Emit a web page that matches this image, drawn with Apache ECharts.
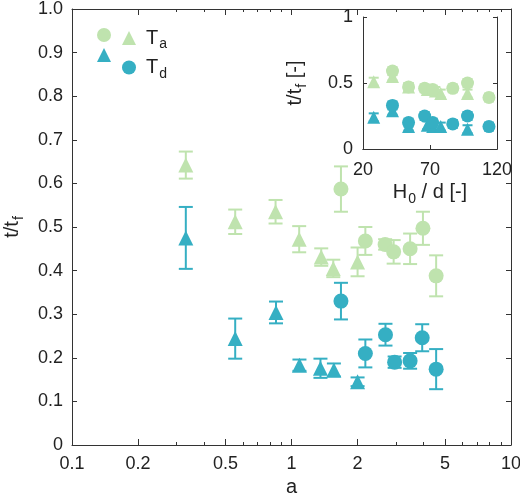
<!DOCTYPE html>
<html>
<head>
<meta charset="utf-8">
<script src="https://cdn.jsdelivr.net/npm/echarts@6/dist/echarts.min.js"></script>
<style>
  html, body { margin: 0; padding: 0; background: #fff; }
  #chart { width: 520px; height: 495px; }
</style>
</head>
<body>
<div id="chart"></div>
<script>
// main plot: t/t_f versus a (log axis)
var taTriA = [0.33, 0.554, 0.846, 1.084, 1.366, 1.55, 2.0];
var taTriT = [0.642, 0.512, 0.535, 0.472, 0.431, 0.405, 0.42];
var taTriErr = [0.031, 0.028, 0.027, 0.03, 0.02, 0.02, 0.033];
var taCirA = [1.68, 2.17, 2.67, 2.92, 3.47, 3.97, 4.56];
var taCirT = [0.587, 0.468, 0.46, 0.443, 0.45, 0.497, 0.388];
var taCirErr = [0.052, 0.032, 0.012, 0.027, 0.035, 0.038, 0.047];

var tdTriA = [0.33, 0.554, 0.85, 1.087, 1.355, 1.56, 2.0];
var tdTriT = [0.475, 0.244, 0.304, 0.183, 0.176, 0.172, 0.145];
var tdTriErr = [0.071, 0.046, 0.025, 0.013, 0.022, 0.015, 0.01];
var tdCirA = [1.68, 2.17, 2.68, 2.95, 3.47, 3.94, 4.56];
var tdCirT = [0.33, 0.21, 0.253, 0.19, 0.193, 0.246, 0.174];
var tdCirErr = [0.042, 0.032, 0.025, 0.013, 0.018, 0.031, 0.046];

// inset: t/t_f versus H0/d
var inTaTriH = [28, 42, 54, 68, 74, 78, 98];
var inTaTriT = [0.51, 0.55, 0.47, 0.45, 0.44, 0.42, 0.42];
var inTaCirH = [42, 54, 66, 72, 87, 98, 114];
var inTaCirT = [0.59, 0.47, 0.46, 0.45, 0.46, 0.5, 0.39];
var inTdTriH = [28, 42, 54, 68, 72, 78, 98];
var inTdTriT = [0.24, 0.29, 0.17, 0.18, 0.17, 0.17, 0.15];
var inTdCirH = [42, 54, 66, 72, 87, 98, 114];
var inTdCirT = [0.33, 0.2, 0.25, 0.2, 0.19, 0.25, 0.17];
var inErr = 0.03;

// tick values
var xMajor = [0.1, 0.2, 0.5, 1, 2, 5, 10];
var xMinor = [0.3, 0.4, 0.6, 0.7, 0.8, 0.9, 3, 4, 6, 7, 8, 9];
var inXLabels = [20, 70, 120];
var inXTicks = [70];

var green = "#bfe3ae";
var teal = "#35afc3";
var ink = "#222";
var fontFam = "Liberation Sans, Arial, sans-serif";

function zip(xs, ys) {
  return xs.map(function (x, i) { return [x, ys[i]]; });
}
function zipErr(xs, ys, es) {
  return xs.map(function (x, i) {
    var e = Array.isArray(es) ? es[i] : es;
    return [x, ys[i] - e, ys[i] + e];
  });
}

function errSeries(data, color, xi, yi, cap) {
  return {
    type: "custom",
    xAxisIndex: xi,
    yAxisIndex: yi,
    z: 2,
    silent: true,
    encode: { x: 0, y: [1, 2] },
    data: data,
    renderItem: function (params, api) {
      var top = api.coord([api.value(0), api.value(2)]);
      var bot = api.coord([api.value(0), api.value(1)]);
      var st = { stroke: color, lineWidth: 2 };
      return {
        type: "group",
        children: [
          { type: "line", shape: { x1: top[0], y1: top[1], x2: bot[0], y2: bot[1] }, style: st },
          { type: "line", shape: { x1: top[0] - cap, y1: top[1], x2: top[0] + cap, y2: top[1] }, style: st },
          { type: "line", shape: { x1: bot[0] - cap, y1: bot[1], x2: bot[0] + cap, y2: bot[1] }, style: st },
        ],
      };
    },
  };
}

function pts(name, data, color, symbol, size, xi, yi) {
  return {
    name: name,
    type: "scatter",
    xAxisIndex: xi,
    yAxisIndex: yi,
    z: 3,
    symbol: symbol,
    symbolSize: size,
    itemStyle: { color: color, opacity: 1 },
    data: data,
  };
}

var rich = {
  t: { fontSize: 20, color: ink, fontFamily: fontFam },
  s: { fontSize: 14, color: ink, fontFamily: fontFam, padding: [13, 0, 0, 1] },
};
var legendRich = {
  t: { fontSize: 20, color: ink, fontFamily: fontFam, padding: [0, 0, 0, 5] },
  s: { fontSize: 14, color: ink, fontFamily: fontFam, padding: [13, 0, 0, 1] },
};

var axisLine = { show: true, lineStyle: { color: "#333", width: 1 } };
var noLine = { show: false };

function logAxis(pos, ticks, len, labels, withLine) {
  return {
    type: "log",
    logBase: 10,
    gridIndex: 0,
    position: pos,
    min: 0.1,
    max: 10,
    axisLine: withLine ? axisLine : noLine,
    axisTick: { show: true, inside: true, length: len, customValues: ticks, lineStyle: { color: "#333" } },
    axisLabel: labels
      ? {
          show: true,
          customValues: xMajor,
          margin: 10,
          color: ink,
          fontSize: 18,
          fontFamily: fontFam,
          formatter: function (v) { return String(+Number(v).toPrecision(6)); },
        }
      : { show: false },
    splitLine: { show: false },
    minorTick: { show: false },
  };
}

var option = {
  animation: false,
  backgroundColor: "#fff",
  grid: [
    { left: 72, top: 9, width: 439, height: 436, outerBoundsMode: "none", containLabel: false },
    { left: 363, top: 17, width: 134, height: 132, outerBoundsMode: "none", containLabel: false },
  ],
  legend: [
    {
      orient: "vertical",
      left: 97,
      top: 28,
      padding: 0,
      itemWidth: 14,
      itemHeight: 14,
      itemGap: 6,
      selectedMode: false,
      data: ["Ta circle", "Td triangle"],
      formatter: function () { return "{t| }"; },
      textStyle: { rich: { t: { fontSize: 1, lineHeight: 26 } } },
    },
    {
      orient: "vertical",
      left: 122,
      top: 28,
      padding: 0,
      itemWidth: 14,
      itemHeight: 14,
      itemGap: 6,
      selectedMode: false,
      data: ["Ta triangle", "Td circle"],
      formatter: function (name) {
        return name.charAt(1) === "a" ? "{t|T}{s|a}" : "{t|T}{s|d}";
      },
      textStyle: { rich: legendRich },
    },
  ],
  xAxis: [
    Object.assign(logAxis("bottom", xMajor, 6, true, true), {
      name: "a",
      nameLocation: "middle",
      nameGap: 28,
      nameTextStyle: { color: ink, fontSize: 20, fontFamily: fontFam },
    }),
    logAxis("bottom", xMinor, 3, false, false),
    logAxis("top", xMajor, 6, false, true),
    logAxis("top", xMinor, 3, false, false),
    {
      type: "value",
      gridIndex: 1,
      position: "bottom",
      min: 20,
      max: 120,
      axisLine: axisLine,
      axisTick: { show: true, inside: true, length: 4, customValues: inXTicks, lineStyle: { color: "#333" } },
      axisLabel: { show: true, customValues: inXLabels, margin: 12, color: ink, fontSize: 18, fontFamily: fontFam },
      splitLine: { show: false },
      name: "{t|H}{s|0}{t| / d [-]}",
      nameLocation: "middle",
      nameGap: 30,
      nameTextStyle: { rich: rich },
    },
    {
      type: "value",
      gridIndex: 1,
      position: "top",
      min: 20,
      max: 120,
      axisLine: axisLine,
      axisTick: { show: false },
      axisLabel: { show: false },
      splitLine: { show: false },
    },
  ],
  yAxis: [
    {
      type: "value",
      gridIndex: 0,
      position: "left",
      min: 0,
      max: 1,
      interval: 0.1,
      axisLine: axisLine,
      axisTick: { show: true, inside: true, length: 5, lineStyle: { color: "#333" } },
      axisLabel: {
        margin: 9,
        color: ink,
        fontSize: 18,
        fontFamily: fontFam,
        formatter: function (v) { return v === 0 ? "0" : v.toFixed(1); },
      },
      splitLine: { show: false },
      name: "{t|t/t}{s|f}",
      nameLocation: "middle",
      nameGap: 46,
      nameTextStyle: { rich: rich },
    },
    {
      type: "value",
      gridIndex: 0,
      position: "right",
      min: 0,
      max: 1,
      interval: 0.1,
      axisLine: axisLine,
      axisTick: { show: true, inside: true, length: 5, lineStyle: { color: "#333" } },
      axisLabel: { show: false },
      splitLine: { show: false },
    },
    {
      type: "value",
      gridIndex: 1,
      position: "left",
      min: 0,
      max: 1,
      interval: 0.5,
      axisLine: axisLine,
      axisTick: { show: true, inside: true, length: 4, lineStyle: { color: "#333" } },
      axisLabel: {
        margin: 10,
        color: ink,
        fontSize: 18,
        fontFamily: fontFam,
        formatter: function (v) { return String(v); },
      },
      splitLine: { show: false },
      name: "{t|t/t}{s|f}{t| [-]}",
      nameLocation: "middle",
      nameGap: 54,
      nameTextStyle: { rich: rich },
    },
    {
      type: "value",
      gridIndex: 1,
      position: "right",
      min: 0,
      max: 1,
      interval: 0.5,
      axisLine: axisLine,
      axisTick: { show: true, inside: true, length: 4, lineStyle: { color: "#333" } },
      axisLabel: { show: false },
      splitLine: { show: false },
    },
  ],
  series: [
    errSeries(zipErr(taTriA, taTriT, taTriErr), green, 0, 0, 7),
    errSeries(zipErr(taCirA, taCirT, taCirErr), green, 0, 0, 7),
    errSeries(zipErr(tdTriA, tdTriT, tdTriErr), teal, 0, 0, 7),
    errSeries(zipErr(tdCirA, tdCirT, tdCirErr), teal, 0, 0, 7),
    pts("Ta circle", zip(taCirA, taCirT), green, "circle", 15, 0, 0),
    pts("Ta triangle", zip(taTriA, taTriT), green, "triangle", 15, 0, 0),
    pts("Td triangle", zip(tdTriA, tdTriT), teal, "triangle", 15, 0, 0),
    pts("Td circle", zip(tdCirA, tdCirT), teal, "circle", 15, 0, 0),

    errSeries(zipErr(inTaTriH, inTaTriT, inErr), green, 4, 2, 5),
    errSeries(zipErr(inTaCirH, inTaCirT, inErr), green, 4, 2, 5),
    errSeries(zipErr(inTdTriH, inTdTriT, inErr), teal, 4, 2, 5),
    errSeries(zipErr(inTdCirH, inTdCirT, inErr), teal, 4, 2, 5),
    pts("in Ta triangle", zip(inTaTriH, inTaTriT), green, "triangle", 13, 4, 2),
    pts("in Ta circle", zip(inTaCirH, inTaCirT), green, "circle", 13, 4, 2),
    pts("in Td triangle", zip(inTdTriH, inTdTriT), teal, "triangle", 13, 4, 2),
    pts("in Td circle", zip(inTdCirH, inTdCirT), teal, "circle", 13, 4, 2),
  ],
};

var chart = echarts.init(document.getElementById("chart"));
chart.setOption(option);
</script>
</body>
</html>
